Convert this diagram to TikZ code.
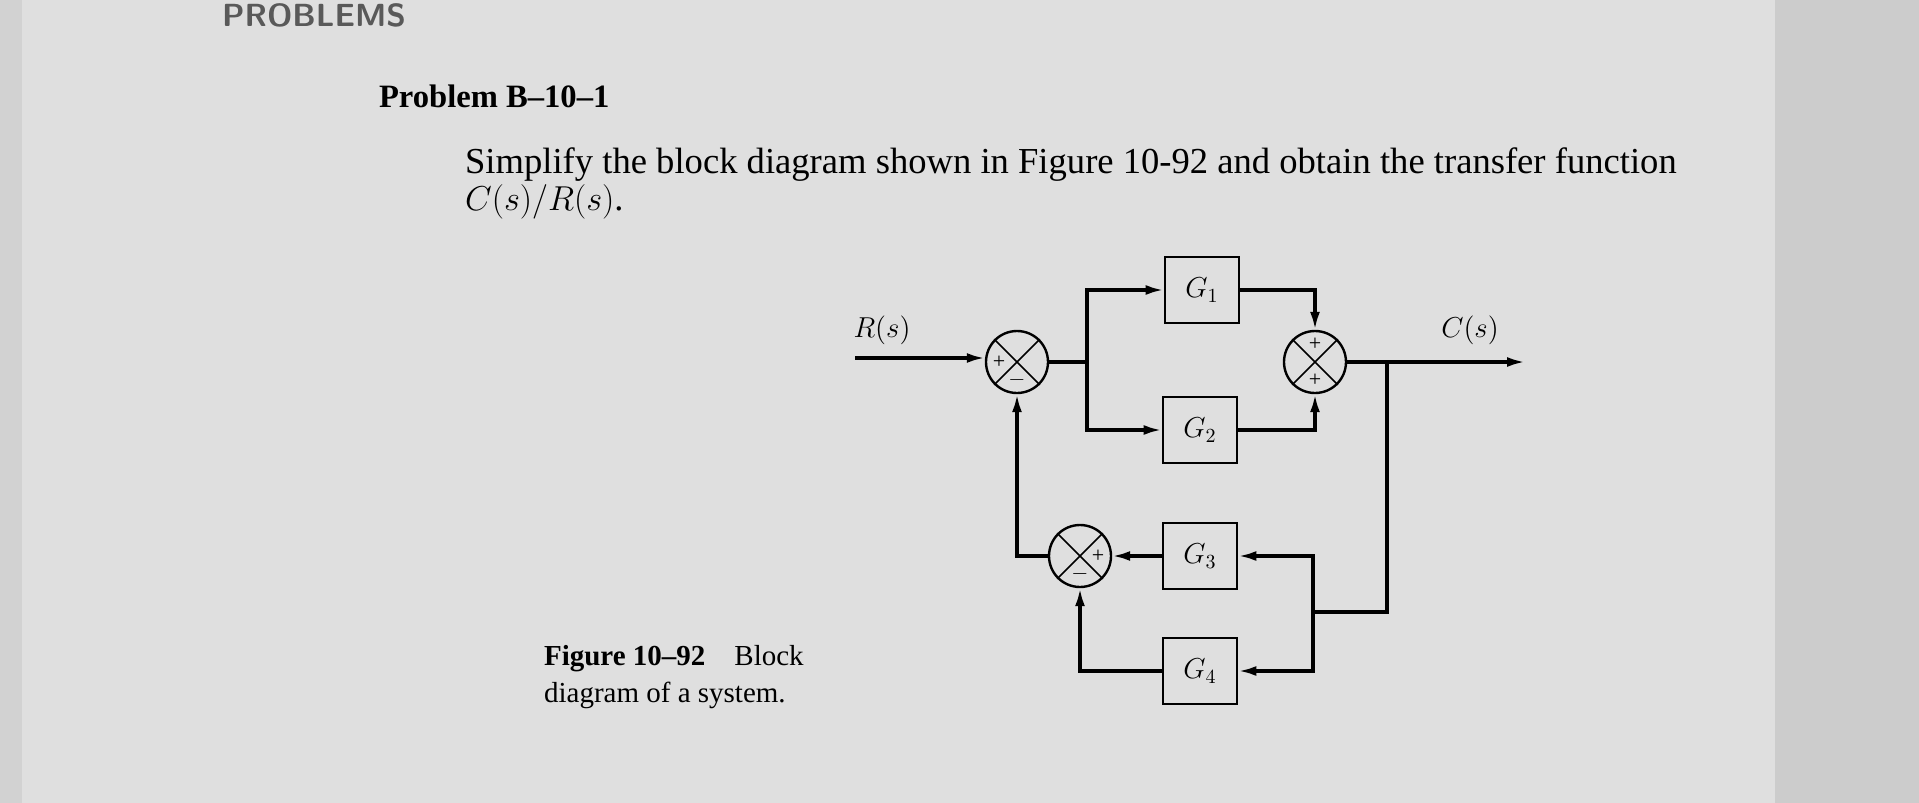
\documentclass[tikz,border=0pt]{standalone}
\usepackage{fontspec}
\setmainfont{Liberation Serif}
\usetikzlibrary{arrows.meta}
\begin{document}
\begin{tikzpicture}[x=0.5pt,y=-0.5pt,
  ln/.style={line width=1.6pt},
  arr/.style={ln,-{Latex[length=9pt,width=5pt]}},
  blk/.style={draw,line width=1.4pt,minimum width=37pt,minimum height=33pt,inner sep=0pt,font=\fontsize{14}{14}\selectfont},
  sj/.style={draw,circle,line width=1.2pt,minimum size=31pt,inner sep=0pt},
  sg/.style={font=\fontsize{11}{11}\selectfont,inner sep=0pt}]
\fill[gray!25!white] (0,0) rectangle (1919,803);
\fill[gray!40] (1775,0) rectangle (1919,803);
\fill[gray!35] (0,0) rectangle (22,803);
\useasboundingbox (0,0) rectangle (1919,803);
\node[anchor=base west,font=\sffamily\bfseries\fontsize{16}{16}\selectfont,gray!70!black] (hd) at (215,26) {PROBLEMS};
\node[anchor=base west,font=\bfseries\fontsize{16.3}{17}\selectfont] (pb) at (372,107) {Problem B–10–1};
\node[anchor=base west,font=\fontsize{18.3}{18}\selectfont] (t1) at (458,173) {Simplify the block diagram shown in Figure 10-92 and obtain the transfer function};
\node[anchor=base west,font=\fontsize{18.3}{18}\selectfont] (t2) at (458,210) {$C(s)/R(s)$.};
\node[anchor=base west,font=\fontsize{14.5}{15}\selectfont] (c1) at (537,665) {\textbf{Figure 10–92}\quad Block};
\node[anchor=base west,font=\fontsize{14.5}{15}\selectfont] (c2) at (537,702) {diagram of a system.};

\node[sj] (s1) at (1017,362) {};
\node[sj] (s2) at (1315,362) {};
\node[sj] (s3) at (1080,556) {};
\foreach \s in {s1,s2,s3}{\draw[line width=0.8pt] (\s.north west)--(\s.south east) (\s.north east)--(\s.south west);}
\node[sg] at ([xshift=-9pt]s1.center) {+};
\node[sg] at ([yshift=-9pt]s1.center) {$-$};
\node[sg] at ([yshift=9pt]s2.center) {+};
\node[sg] at ([yshift=-9pt]s2.center) {+};
\node[sg] at ([xshift=9pt]s3.center) {+};
\node[sg] at ([yshift=-9pt]s3.center) {$-$};

\node[blk] (g1) at (1202,290) {$G_1$};
\node[blk] (g2) at (1200,430) {$G_2$};
\node[blk] (g3) at (1200,556) {$G_3$};
\node[blk] (g4) at (1200,671) {$G_4$};

\coordinate (rin) at (855,358);
\coordinate (cout) at (1525,362);
\coordinate (bp) at (1087,362);
\coordinate (bo) at (1387,362);
\coordinate (rj) at (1313,612);

\node[font=\fontsize{14}{14}\selectfont] (rl) at (882,330) {$R(s)$};
\node[font=\fontsize{14}{14}\selectfont] (cl) at (1470,330) {$C(s)$};

\draw[arr] (rin) -- (rin -| s1.west);
\draw[ln] (s1.east) -- (bp);
\draw[arr] (bp) |- (g1.west);
\draw[arr] (bp) |- (g2.west);
\draw[arr] (g1.east) -| (s2.north);
\draw[arr] (g2.east) -| (s2.south);
\draw[arr] (s2.east) -- (cout);
\draw[ln] (bo) |- (rj);
\draw[arr] (rj) |- (g3.east);
\draw[arr] (rj) |- (g4.east);
\draw[arr] (g3.west) -- (s3.east);
\draw[arr] (g4.west) -| (s3.south);
\draw[arr] (s3.west) -| (s1.south);
\end{tikzpicture}
\end{document}
